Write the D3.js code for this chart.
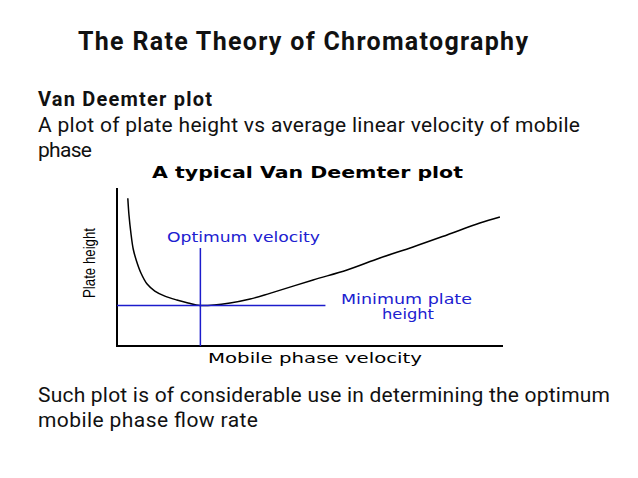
<!DOCTYPE html>
<html>
  <head>
    <title>Van Deemter plot</title>
    <script src="https://d3js.org/d3.v7.min.js"></script>
    <style>
    body { margin: 0; background: white; }
    .slide { font-family: Roboto, "Open Sans", sans-serif; fill: #111; }
    .chart { font-family: "DejaVu Sans", Verdana, sans-serif; }
    </style>
  </head>
  <body>
      <script>
          var width = 638;
          var height = 478;

          // curve (velocity, plate height), arbitrary units 0-100
          var velocity = [2.8, 3.1, 3.6, 4.2, 5.05, 6.2, 7.8, 9.8, 12.4, 15.5, 18.4, 21.6, 29.3, 34.5, 39.6, 50.8, 59.6, 68.1, 76.7, 85.5, 94.0, 99.2];
          var plateHeight = [93.5, 82.9, 71.5, 61.4, 53.8, 46.2, 39.2, 34.8, 31.6, 29.1, 27.2, 25.6, 27.2, 29.7, 33.3, 41.8, 48.1, 55.7, 62.7, 70.3, 77.8, 81.6];

          var optimumVelocity = 21.6;
          var minPlateHeight = 25.6;
          var optimumLineTop = 62;
          var minLineEnd = 54;

          var svg = d3.select("body")
                      .append("svg")
                      .attr("height", height)
                      .attr("width", width)

          // slide text
          var slide = svg.append("g").attr("class", "slide")

          var slideLines = [
            {x: 78, y: 50, w: 450, size: 25, bold: true, t: "The Rate Theory of Chromatography"},
            {x: 38, y: 106, w: 174, size: 20, bold: true, t: "Van Deemter plot"},
            {x: 38, y: 131.5, w: 542, size: 21, bold: false, t: "A plot of plate height vs average linear velocity of mobile"},
            {x: 38, y: 156.5, w: 54, size: 21, bold: false, t: "phase"},
            {x: 38, y: 402, w: 572, size: 21, bold: false, t: "Such plot is of considerable use in determining the optimum"},
            {x: 38, y: 426.5, w: 220, size: 21, bold: false, t: "mobile phase flow rate"}
          ]
          slide.selectAll("text")
              .data(slideLines)
              .enter()
              .append("text")
              .attr("x", function(d){ return d.x })
              .attr("y", function(d){ return d.y })
              .attr("textLength", function(d){ return d.w })
              .attr("lengthAdjust", "spacing")
              .style("font-size", function(d){ return d.size + "px" })
              .style("font-weight", function(d){ return d.bold ? "bold" : "normal" })
              .text(function(d){ return d.t })

          // the chart itself
          var x = d3.scaleLinear().domain([0, 100]).range([117, 503])
          var y = d3.scaleLinear().domain([0, 100]).range([346, 188])

          var chart = svg.append("g").attr("class", "chart")

          chart.append("text")
              .attr("x", 152).attr("y", 178)
              .attr("textLength", 311).attr("lengthAdjust", "spacingAndGlyphs")
              .style("font-size", "15.5px").style("font-weight", "bold")
              .text("A typical Van Deemter plot")

          // axes (plain lines, no ticks)
          chart.append("path")
              .attr("d", "M" + x(0) + "," + y(100) + "V" + y(0) + "H" + x(100))
              .attr("fill", "none")
              .attr("stroke", "black")
              .attr("stroke-width", 2)

          var points = velocity.map(function(v, i){ return [v, plateHeight[i]] })

          var line = d3.line()
                       .x(function(d){ return x(d[0]) })
                       .y(function(d){ return y(d[1]) })
                       .curve(d3.curveCatmullRom.alpha(0.5))

          chart.append("path")
              .attr("d", line(points))
              .attr("fill", "none")
              .attr("stroke", "black")
              .attr("stroke-width", 1.5)

          // blue guide lines
          chart.append("line")
              .attr("x1", x(optimumVelocity)).attr("x2", x(optimumVelocity))
              .attr("y1", y(optimumLineTop)).attr("y2", y(0))
              .attr("stroke", "#1c1ccc").attr("stroke-width", 1.5)

          chart.append("line")
              .attr("x1", x(0)).attr("x2", x(minLineEnd))
              .attr("y1", y(minPlateHeight)).attr("y2", y(minPlateHeight))
              .attr("stroke", "#1c1ccc").attr("stroke-width", 1.5)

          var blueLabels = [
            {x: 167, y: 242, w: 153, t: "Optimum velocity"},
            {x: 341, y: 304, w: 131, t: "Minimum plate"},
            {x: 382, y: 319, w: 52, t: "height"}
          ]
          chart.selectAll("text.note")
              .data(blueLabels)
              .enter()
              .append("text")
              .attr("class", "note")
              .attr("x", function(d){ return d.x })
              .attr("y", function(d){ return d.y })
              .attr("textLength", function(d){ return d.w })
              .attr("lengthAdjust", "spacingAndGlyphs")
              .style("font-size", "13.5px")
              .style("fill", "#2020d0")
              .text(function(d){ return d.t })

          chart.append("text")
              .attr("x", 208).attr("y", 363)
              .attr("textLength", 214).attr("lengthAdjust", "spacingAndGlyphs")
              .style("font-size", "14px")
              .text("Mobile phase velocity")

          chart.append("text")
              .attr("transform", "translate(95,298) rotate(-90)")
              .attr("textLength", 70).attr("lengthAdjust", "spacingAndGlyphs")
              .style("font-family", "'Liberation Sans', Arial, sans-serif")
              .style("font-size", "17px")
              .text("Plate height")
      </script>
  </body>
</html>
